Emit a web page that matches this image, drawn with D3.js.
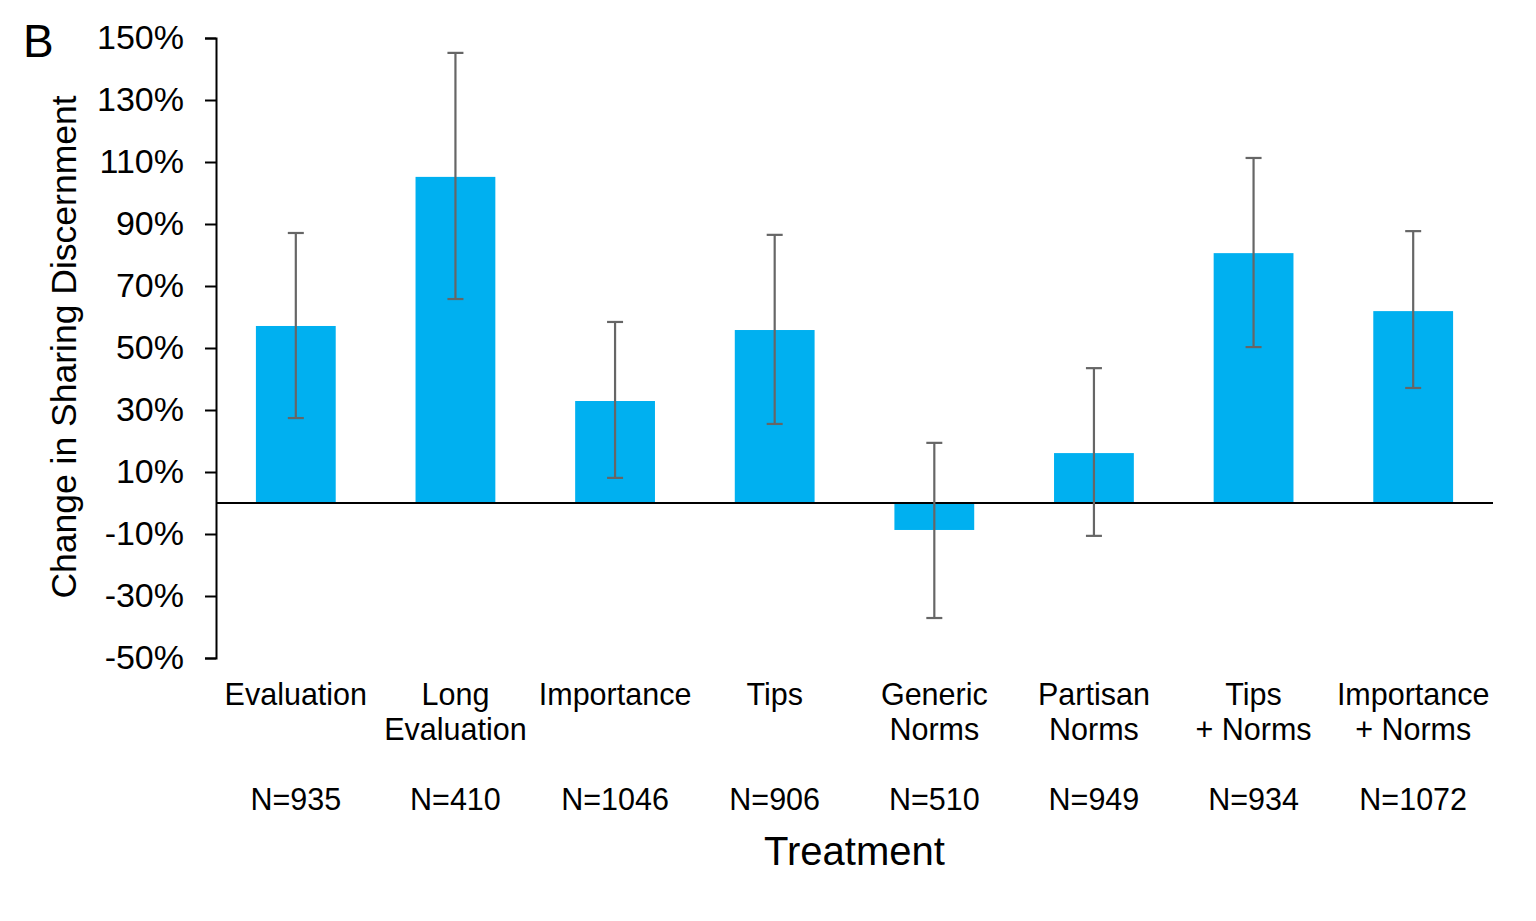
<!DOCTYPE html>
<html>
    <head>
        <title>Change in Sharing Discernment</title>
        <script src="https://d3js.org/d3.v7.min.js"></script>
        <style>
            body { margin: 0; background: #fff; }
            svg text { font-family: "Liberation Sans", Arial, sans-serif; fill: #000; }
            .axis path, .axis line { stroke: #000; stroke-width: 2; }
            .axis text { font-size: 34px; }
            .err { stroke: #666; stroke-width: 2.2; }
        </style>
    </head>
    <body>
        <svg width="1536" height="921"></svg>
        <script>
            // values (percent change)
            var categories = ["Evaluation", "Long\nEvaluation", "Importance", "Tips",
                "Generic\nNorms", "Partisan\nNorms", "Tips\n+ Norms", "Importance\n+ Norms"];
            var sampleSizes = ["N=935", "N=410", "N=1046", "N=906", "N=510", "N=949", "N=934", "N=1072"];
            var values = [57.1, 105.2, 32.9, 55.8, -8.7, 16.1, 80.6, 61.9];
            var errLow = [27.4, 65.8, 8.1, 25.5, -37.1, -10.6, 50.3, 37.1];
            var errHigh = [87.1, 145.2, 58.4, 86.5, 19.4, 43.5, 111.3, 87.7];
            var yTicks = [150, 130, 110, 90, 70, 50, 30, 10, -10, -30, -50];

            var svg = d3.select("svg");
            var plotLeft = 216, plotRight = 1493, plotTop = 38, plotBottom = 658;

            var x = d3.scaleBand()
                .domain(categories)
                .range([plotLeft, plotRight])
                .paddingInner(0.5)
                .paddingOuter(0.25);

            var y = d3.scaleLinear()
                .domain([-50, 150])
                .range([plotBottom, plotTop]);

            var data = categories.map(function(c, i) {
                return {cat: c, n: sampleSizes[i], v: values[i], lo: errLow[i], hi: errHigh[i]};
            });

            // bars
            svg.selectAll(".bar")
                .data(data)
              .enter().append("rect")
                .attr("class", "bar")
                .attr("x", d => x(d.cat))
                .attr("width", x.bandwidth())
                .attr("y", d => y(Math.max(0, d.v)))
                .attr("height", d => Math.abs(y(d.v) - y(0)))
                .attr("fill", "#00B0F0");

            // zero line
            svg.append("line")
                .attr("x1", plotLeft).attr("x2", plotRight)
                .attr("y1", y(0)).attr("y2", y(0))
                .attr("stroke", "#000").attr("stroke-width", 2);

            // error bars
            var cap = 8;
            var eb = svg.selectAll(".errg")
                .data(data)
              .enter().append("g");
            eb.append("line").attr("class", "err")
                .attr("x1", d => x(d.cat) + x.bandwidth() / 2)
                .attr("x2", d => x(d.cat) + x.bandwidth() / 2)
                .attr("y1", d => y(d.hi)).attr("y2", d => y(d.lo));
            eb.append("line").attr("class", "err")
                .attr("x1", d => x(d.cat) + x.bandwidth() / 2 - cap)
                .attr("x2", d => x(d.cat) + x.bandwidth() / 2 + cap)
                .attr("y1", d => y(d.hi)).attr("y2", d => y(d.hi));
            eb.append("line").attr("class", "err")
                .attr("x1", d => x(d.cat) + x.bandwidth() / 2 - cap)
                .attr("x2", d => x(d.cat) + x.bandwidth() / 2 + cap)
                .attr("y1", d => y(d.lo)).attr("y2", d => y(d.lo));

            // y axis
            svg.append("g")
                .attr("class", "axis")
                .attr("transform", "translate(" + plotLeft + ",0)")
                .call(d3.axisLeft(y).tickValues(yTicks).tickSize(11).tickSizeOuter(11)
                    .tickPadding(21).tickFormat(d => d + "%"));

            // category labels
            var lab = svg.selectAll(".catlab")
                .data(data)
              .enter().append("text")
                .attr("class", "catlab")
                .attr("text-anchor", "middle")
                .attr("font-size", 30.5)
                .attr("y", 705);
            lab.selectAll("tspan")
                .data(d => d.cat.split("\n").map(t => ({t: t, cx: x(d.cat) + x.bandwidth() / 2})))
              .enter().append("tspan")
                .attr("x", d => d.cx)
                .attr("dy", (d, i) => i === 0 ? 0 : 35)
                .text(d => d.t);

            svg.selectAll(".nlab")
                .data(data)
              .enter().append("text")
                .attr("text-anchor", "middle")
                .attr("font-size", 30.5)
                .attr("x", d => x(d.cat) + x.bandwidth() / 2)
                .attr("y", 810)
                .text(d => d.n);

            // axis titles
            svg.append("text")
                .attr("text-anchor", "middle")
                .attr("font-size", 40)
                .attr("x", (plotLeft + plotRight) / 2)
                .attr("y", 865)
                .text("Treatment");

            svg.append("text")
                .attr("text-anchor", "middle")
                .attr("font-size", 35.5)
                .attr("transform", "translate(76,347) rotate(-90)")
                .text("Change in Sharing Discernment");

            svg.append("text")
                .attr("font-size", 46)
                .attr("x", 23)
                .attr("y", 57)
                .text("B");
        </script>
    </body>
</html>
